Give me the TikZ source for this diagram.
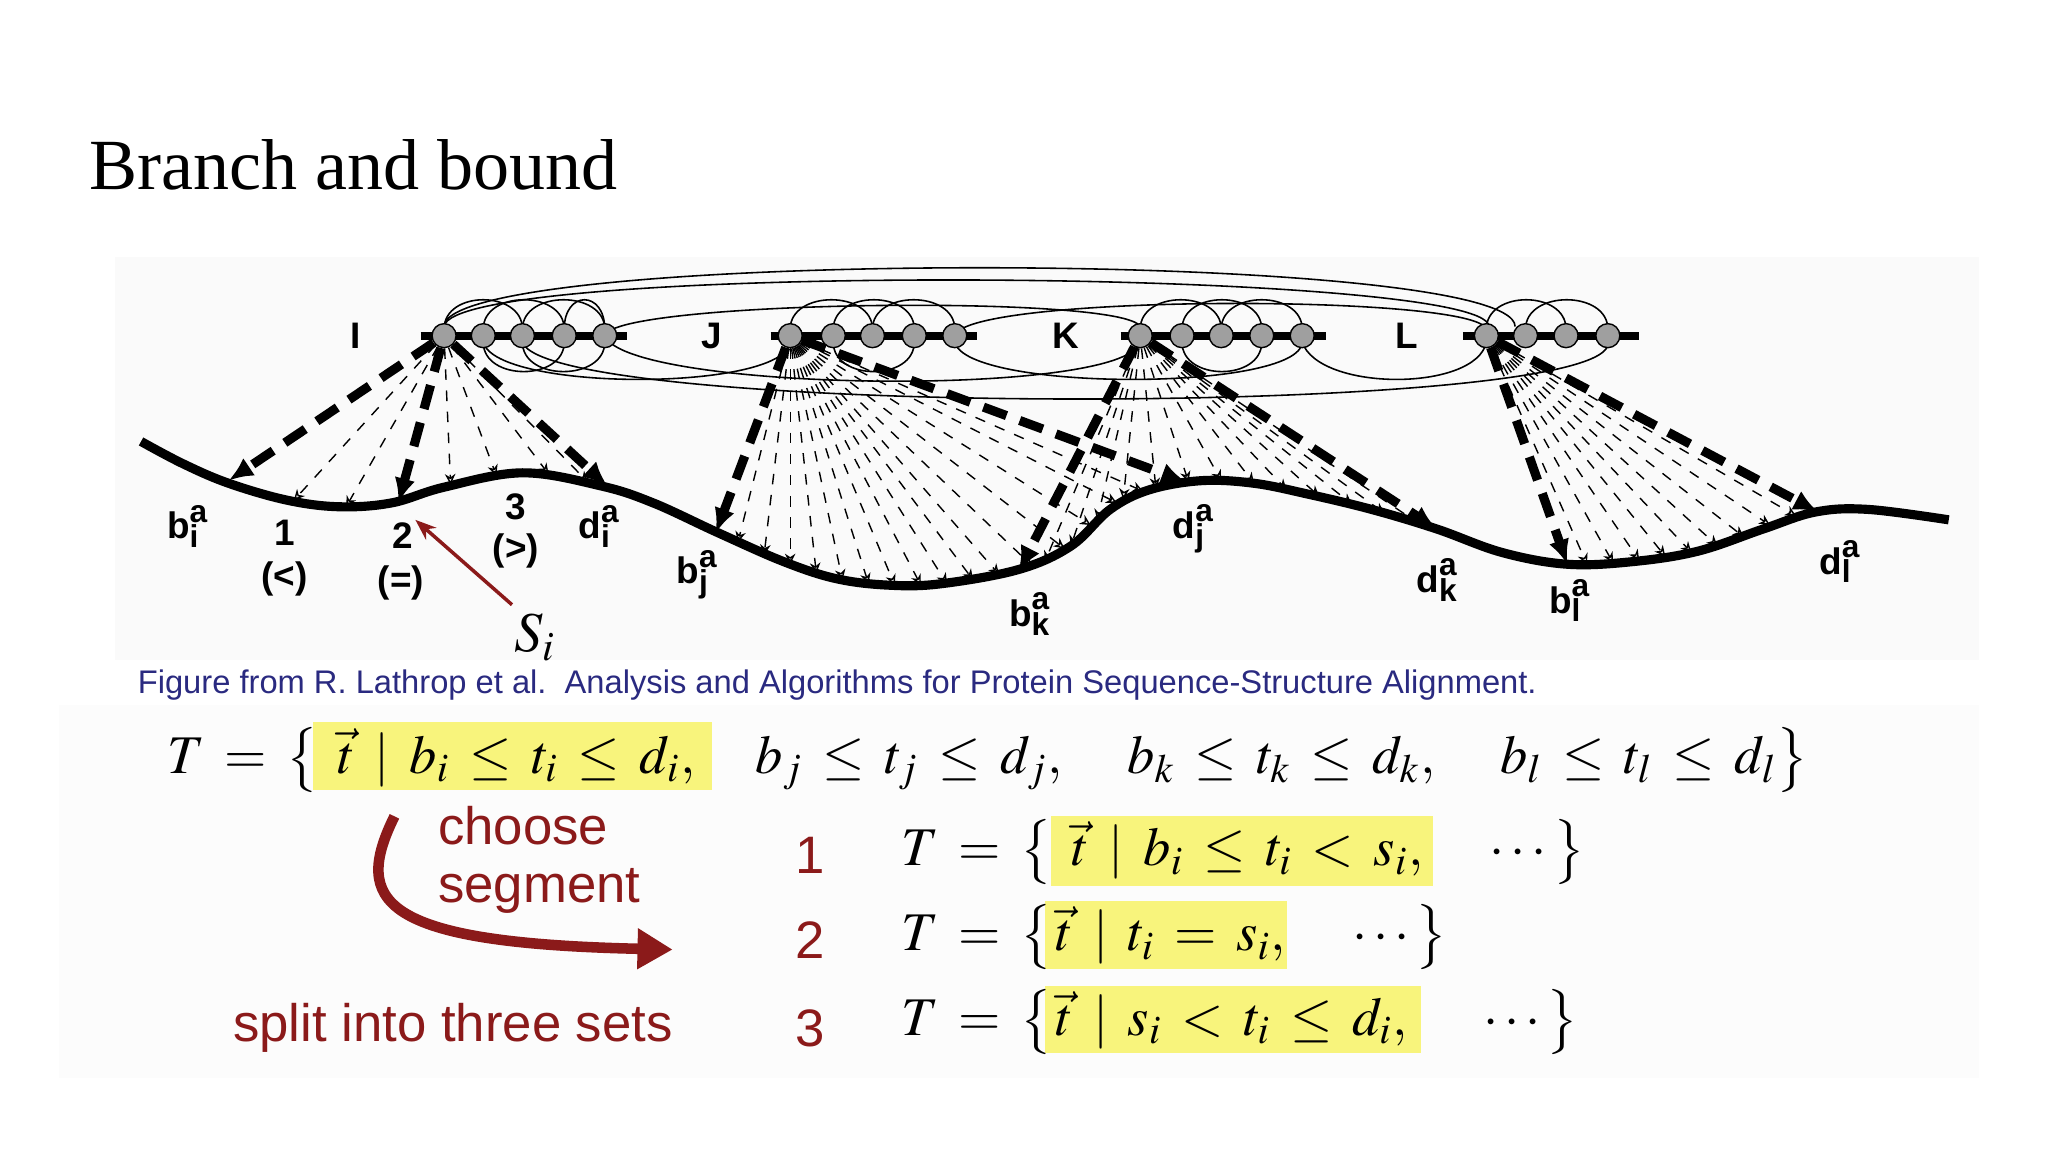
\documentclass[tikz,border=0pt]{standalone}
\usepackage{mathptmx}
\usepackage{fontspec}
\setmainfont{Liberation Serif}
\setsansfont{Liberation Sans}
\usetikzlibrary{arrows.meta}
\definecolor{dred}{HTML}{8B1A1A}
\definecolor{capblue}{HTML}{2A2A80}
\definecolor{hl}{HTML}{F8F47C}
\newcommand{\bl}[3]{#1\rlap{\raisebox{0.85ex}{\fontsize{9}{10}\selectfont #3}}\raisebox{-0.45ex}{\fontsize{9}{10}\selectfont #2}}
\newcommand{\mfont}{\fontsize{15.5}{18}\selectfont\thickmuskip=6.5mu\relax}
\tikzset{
  bead/.style={circle,draw=black,fill=gray!75,minimum size=0.24cm,inner sep=0pt,line width=0.4pt},
  bar/.style={line width=2.2pt},
  loopl/.style={line width=0.45pt},
  heavy/.style={line width=2.6pt,dash pattern=on 7pt off 4pt,-{Latex[length=7pt,width=6pt]}},
  thin/.style={line width=0.4pt,dashed,-{Stealth[length=3pt,width=3pt,open]}},
  clab/.style={font=\sffamily\bfseries\fontsize{10.5}{12}\selectfont},
  lab/.style={font=\sffamily\bfseries\fontsize{10.5}{12}\selectfont,inner sep=0pt},
  redtxt/.style={text=dred,font=\sffamily\fontsize{15}{16.5}\selectfont,inner sep=0pt},
  mth/.style={font=\mfont,inner sep=0pt,anchor=base west}
}
\begin{document}
\begin{tikzpicture}[x=0.013061cm,y=-0.013061cm]
\useasboundingbox (0,0) rectangle (1568,882);
\fill[gray!4] (88,197) rectangle (1515,505);
\fill[gray!2] (45,540) rectangle (1515,825);
\node[anchor=base west,inner sep=0pt,font=\fontsize{20.5}{24}\selectfont] (title) at (68,145) {Branch and bound};

% loops
\begin{scope}[loopl]
\draw (340,250) .. controls (340,190) and (1160,190) .. (1160,250);
\draw (340,250) .. controls (345,200) and (1140,205) .. (1140,250);
\draw (463,257) .. controls (470,230) and (860,225) .. (873,250);
\draw (463,257) .. controls (480,300) and (860,305) .. (873,262);
\draw (370,262) .. controls (380,300) and (600,300) .. (605,262);
\draw (400,262) .. controls (420,320) and (1240,320) .. (1231,262);
\draw (997,262) .. controls (1010,300) and (1130,300) .. (1138,262);
\draw (731,262) .. controls (740,300) and (995,300) .. (997,262);
\draw (731,257) .. controls (740,225) and (1130,225) .. (1138,252);
\foreach \a/\b in {340/400,370/432,400/463,432/463,605/668,638/700,668/731,873/935,905/966,935/997,1138/1199,1168/1231}
  \draw (\a,252) .. controls (\a,222) and (\b,222) .. (\b,252);
\foreach \a/\b in {370/432,400/463,638/700,905/966}
  \draw (\a,262) .. controls (\a,292) and (\b,292) .. (\b,262);
\end{scope}

% chains
\draw[bar] (322,257) -- (480,257);
\draw[bar] (590,257) -- (748,257);
\draw[bar] (858,257) -- (1015,257);
\draw[bar] (1120,257) -- (1255,257);
\foreach \n/\x in {1/340,2/370,3/400,4/432,5/463} \node[bead] (I\n) at (\x,257) {};
\foreach \n/\x in {1/605,2/638,3/668,4/700,5/731} \node[bead] (J\n) at (\x,257) {};
\foreach \n/\x in {1/873,2/905,3/935,4/966,5/997} \node[bead] (K\n) at (\x,257) {};
\foreach \n/\x in {1/1138,2/1168,3/1199,4/1231} \node[bead] (L\n) at (\x,257) {};
\node[clab] (lI) at (272,257) {I};
\node[clab] (lJ) at (545,257) {J};
\node[clab] (lK) at (816,257) {K};
\node[clab] (lL) at (1077,257) {L};

% fans
\foreach \x/\y in {225/383,265/388,345/371,380/364,420/363,450/369}
  \draw[thin] (I1) -- (\x,\y);
\foreach \x/\y in {565/415,585/425,605/432,625/439,645/444,665/447,685/448,705/448,725/447,745/444,765/440,790/433,815/420,835/402,855/385,875/376}
  \draw[thin] (J1) -- (\x,\y);
\foreach \x/\y in {800/430,820/418,840/398,860/382,885/374,910/369,935/368,960/370,985/375,1010/380,1035/386,1060/393,1085/400}
  \draw[thin] (K1) -- (\x,\y);
\foreach \x/\y in {1215/432,1235/431,1255/429,1275/426,1295/423,1315/418,1335/411,1355/402,1375/395}
  \draw[thin] (L1) -- (\x,\y);

% curve
\draw[line width=2.6pt,line join=round] plot[smooth,tension=0.6] coordinates {(108,338) (140,355) (175,370) (220,383) (260,388) (300,385) (340,373) (400,362) (460,372) (500,385) (550,408) (600,430) (640,443) (680,448) (720,447) (780,436) (820,418) (850,390) (880,375) (920,368) (960,370) (1000,378) (1050,390) (1100,405) (1150,423) (1200,432) (1250,430) (1300,422) (1350,405) (1390,392) (1430,390) (1492,398)};

% heavy arrows
\coordinate (bi) at (175,368); \coordinate (si) at (305,385); \coordinate (di) at (465,372);
\coordinate (bj) at (548,408); \coordinate (dj) at (908,369);
\coordinate (bk) at (780,437); \coordinate (dk) at (1100,405);
\coordinate (bl) at (1200,432); \coordinate (dl) at (1392,392);
\draw[heavy] (I1) -- (bi); \draw[heavy] (I1) -- (si); \draw[heavy] (I1) -- (di);
\draw[heavy] (J1) -- (bj); \draw[heavy] (J1) -- (dj);
\draw[heavy] (K1) -- (bk); \draw[heavy] (K1) -- (dk);
\draw[heavy] (L1) -- (bl); \draw[heavy] (L1) -- (dl);

% labels
\node[lab] (tbi) at (140,403) {\bl{b}{i}{a}};
\node[lab] (t1) at (218,408) {1};
\node[lab] (t1b) at (218,443) {(<)};
\node[lab] (t2) at (308,410) {2};
\node[lab] (t2b) at (307,446) {(=)};
\node[lab] (t3) at (395,388) {3};
\node[lab] (t3b) at (395,422) {(>)};
\node[lab] (tdi) at (455,403) {\bl{d}{i}{a}};
\node[lab] (tbj) at (530,440) {\bl{b}{j}{a}};
\node[lab] (tbk) at (788,470) {\bl{b}{k}{a}};
\node[lab] (tdj) at (910,405) {\bl{d}{j}{a}};
\node[lab] (tdk) at (1100,444) {\bl{d}{k}{a}};
\node[lab] (tbl) at (1198,460) {\bl{b}{l}{a}};
\node[lab] (tdl) at (1405,430) {\bl{d}{l}{a}};
\node[inner sep=0pt,font=\fontsize{16}{18}\selectfont] (Si) at (410,488) {$S_i$};
\coordinate (siend) at (318,398);
\draw[dred,line width=1pt,-{Stealth[length=6pt]}] (392,463) -- (siend);

% caption
\node[anchor=base west,inner sep=0pt,text=capblue,font=\sffamily\fontsize{9.3}{11}\selectfont] (cap) at (105,531) {Figure from R. Lathrop et al.\ \ Analysis and Algorithms for Protein Sequence-Structure Alignment.};

% highlights
\fill[hl] (240,553) rectangle (545,605);
\fill[hl] (805,625) rectangle (1097,678);
\fill[hl] (800,690) rectangle (985,742);
\fill[hl] (800,755) rectangle (1088,806);

% formulas
\node[mth] (f0a) at (128,592) {$T=\big\{$};
\node[mth] (f0b) at (258,592) {$\vec t\mid b_i\le t_i\le d_i,$};
\node[mth] (f0c) at (578,592) {$b_j\le t_j\le d_j,\;\;\; b_k\le t_k\le d_k,\;\;\; b_l\le t_l\le d_l\big\}$};

\node[mth] (f1a) at (690,663) {$T=\big\{$};
\node[mth] (f1b) at (820,663) {$\vec t\mid b_i\le t_i< s_i,$};
\node[mth] (f1c) at (1140,663) {$\cdots\big\}$};

\node[mth] (f2a) at (690,728) {$T=\big\{$};
\node[mth] (f2b) at (808,728) {$\vec t\mid t_i= s_i,$};
\node[mth] (f2c) at (1035,728) {$\cdots\big\}$};

\node[mth] (f3a) at (690,793) {$T=\big\{$};
\node[mth] (f3b) at (808,793) {$\vec t\mid s_i< t_i\le d_i,$};
\node[mth] (f3c) at (1135,793) {$\cdots\big\}$};

\node[redtxt] (n1) at (620,655) {1};
\node[redtxt] (n2) at (620,720) {2};
\node[redtxt] (n3) at (620,787) {3};
\node[redtxt,align=left,anchor=west] (cs) at (335,658) {choose\\segment};
\node[redtxt,anchor=west] (split) at (178,787) {split into three sets};
\coordinate (cstart) at (302,625);
\coordinate (cend) at (515,727);
\draw[dred,line width=3pt,-{Triangle[length=10pt,width=11pt]}] (cstart) .. controls (270,690) and (290,722) .. (cend);
\end{tikzpicture}
\end{document}
